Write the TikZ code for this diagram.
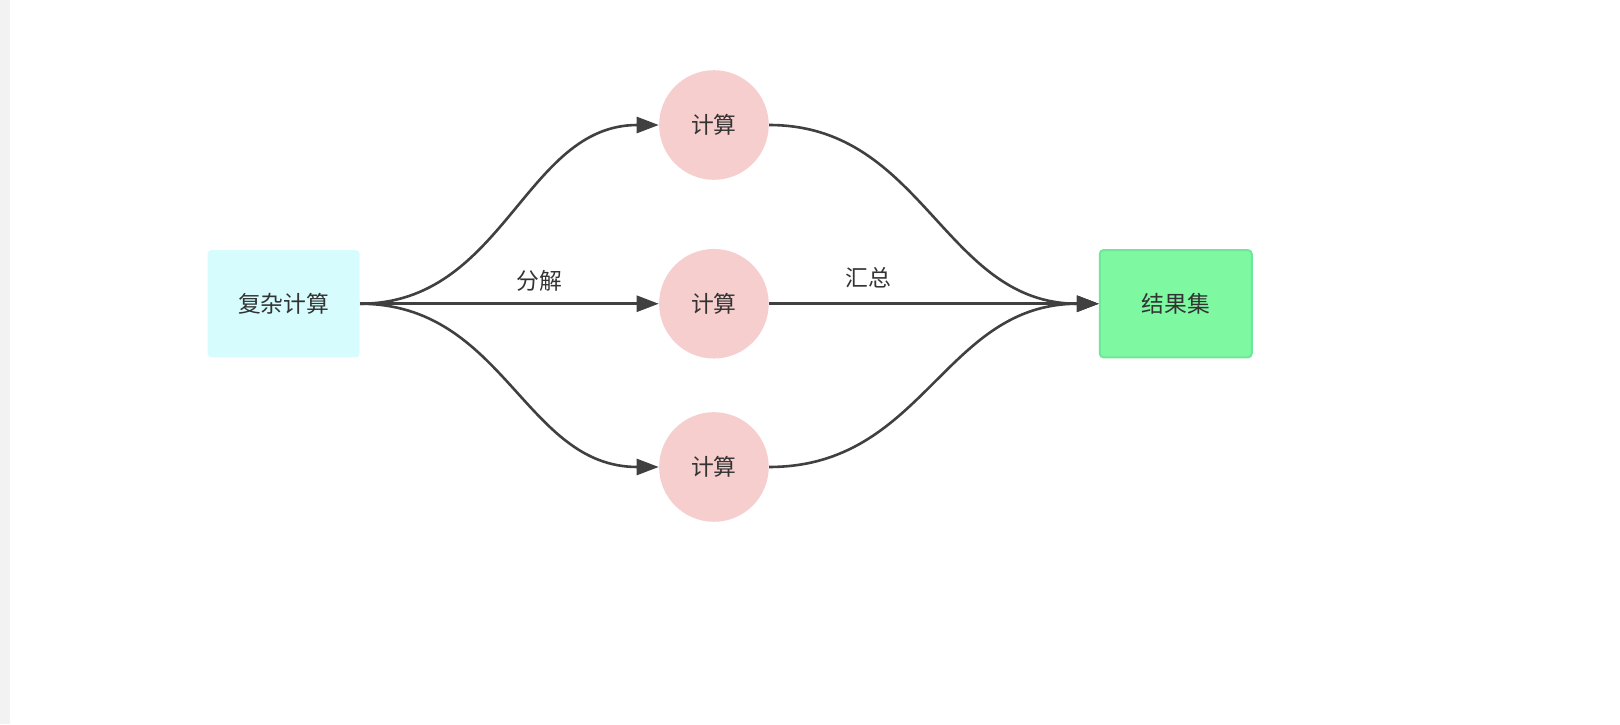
\documentclass[tikz,border=0pt]{standalone}
\usepackage{fontspec}
\newfontfamily\cjk{Noto Sans CJK SC}
\usetikzlibrary{arrows.meta}
\definecolor{lc}{HTML}{404040}
\definecolor{cy}{HTML}{D6FCFD}
\definecolor{pk}{HTML}{F6CECE}
\definecolor{gr}{HTML}{7EF9A2}
\definecolor{grb}{HTML}{6EE79A}
\tikzset{
  txt/.style={font=\cjk\fontsize{11.4}{13.5}\selectfont, text=black!80},
  boxn/.style={txt, minimum width=76pt, minimum height=53.7pt, rounded corners=2pt, inner sep=0pt},
  circn/.style={txt, circle, fill=pk, minimum size=54.8pt, inner sep=0pt},
  conn/.style={draw=lc, line width=1.3pt, -{Triangle[length=11pt,width=8pt]}},
  lbl/.style={txt}
}
\begin{document}
\begin{tikzpicture}[x=0.5166pt,y=-0.5166pt]
\useasboundingbox (0,0) rectangle (1568,701);
\fill[black!5] (0,0) rectangle (10,701);
\node[boxn, fill=cy] (src) at (274.5,294) {复杂计算};
\node[circn] (c1) at (691,121) {计算};
\node[circn] (c2) at (691,294) {计算};
\node[circn] (c3) at (691,452) {计算};
\node[boxn, fill=gr, draw=grb, line width=1pt] (res) at (1138,294) {结果集};
\draw[conn] (src.east) .. controls +(140,0) and +(-130,0) .. (c1.west);
\draw[conn] (src.east) -- node[lbl, above=2pt, pos=0.6] {分解} (c2.west);
\draw[conn] (src.east) .. controls +(140,0) and +(-130,0) .. (c3.west);
\draw[conn] (c1.east) .. controls +(150,0) and +(-150,0) .. (res.west);
\draw[conn] (c2.east) -- node[lbl, above=4pt, pos=0.3] {汇总} (res.west);
\draw[conn] (c3.east) .. controls +(150,0) and +(-150,0) .. (res.west);
\end{tikzpicture}
\end{document}
